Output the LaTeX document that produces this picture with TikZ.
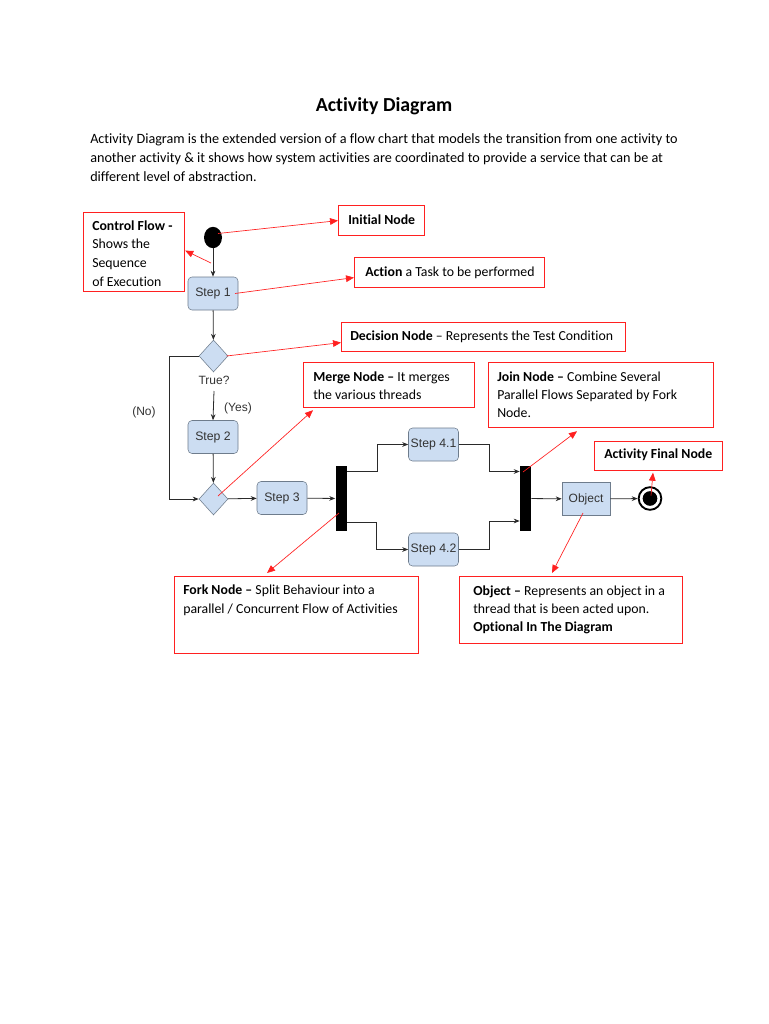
\documentclass[tikz,border=0pt]{standalone}
\usepackage{fontspec}
\setmainfont[Ligatures=NoCommon]{Carlito}
\newfontfamily\arialf{Liberation Sans}
\usetikzlibrary{shapes.geometric,arrows.meta,calc}
\definecolor{stepfill}{HTML}{CCDDF2}
\definecolor{stepdraw}{HTML}{6E7C8C}
\definecolor{annred}{HTML}{FF2020}
\definecolor{flowc}{HTML}{2A2A2A}
\begin{document}
\begin{tikzpicture}[x=0.75pt,y=-0.75pt,
  bodyfont/.style={font=\fontsize{10.64}{14.25}\selectfont},
  annbox/.style={draw=annred,line width=0.9pt,fill=white,inner sep=0pt,anchor=north west},
  anntext/.style={anchor=north west,inner sep=0pt,align=left,font=\fontsize{10.35}{13.6}\selectfont},
  stepbox/.style={draw=stepdraw,fill=stepfill,rounded corners=3pt,minimum width=37.5pt,minimum height=24.75pt,inner sep=0pt,font=\arialf\fontsize{9.2}{10}\selectfont,text=black!80},
  decis/.style={diamond,draw=stepdraw,fill=stepfill,minimum width=21.75pt,minimum height=24pt,inner sep=0pt,aspect=0.9},
  barnode/.style={fill=black,minimum width=8.25pt,minimum height=48.75pt,inner sep=0pt},
  flow/.style={draw=flowc,line width=0.6pt,-{Stealth[length=4.5pt,width=3.5pt]}},
  annarrow/.style={draw=annred,line width=0.5pt,-{Triangle[length=6pt,width=5pt]}},
  dlabel/.style={inner sep=0pt,font=\arialf\fontsize{9}{10}\selectfont,text=black!80}]
\useasboundingbox (0,0) rectangle (768,1024);
\fill[white] (0,0) rectangle (768,1024);

% title and intro
\node[inner sep=0pt,font=\bfseries\fontsize{14.9}{17}\selectfont] (title) at (384,106) {Activity Diagram};
\node[bodyfont,anchor=north west,inner sep=0pt,align=left] (intro) at (90,133.5)
 {Activity Diagram is the extended version of a flow chart that models the transition from one activity to\\
  another activity \& it shows how system activities are coordinated to provide a service that can be at\\
  different level of abstraction.};

% diagram nodes
\node[ellipse,fill=black,minimum width=13.5pt,minimum height=16pt,inner sep=0pt] (init) at (213,237.5) {};
\node[stepbox] (s1) at (213,293.5) {Step 1};
\node[decis] (dec) at (213.5,356) {};
\node[dlabel] (true) at (214,380) {True?};
\node[stepbox] (s2) at (213,437) {Step 2};
\node[decis] (mrg) at (213.5,499) {};
\node[stepbox] (s3) at (282,498) {Step 3};
\node[barnode] (fork) at (341,498.5) {};
\node[stepbox] (s41) at (433.5,444.5) {Step 4.1};
\node[stepbox] (s42) at (433.5,549.5) {Step 4.2};
\node[barnode] (join) at (525.5,498.5) {};
\node[draw=stepdraw,fill=stepfill,minimum width=36pt,minimum height=25pt,inner sep=0pt,font=\arialf\fontsize{9}{10}\selectfont,text=black!80] (obj) at (586,499) {Object};
\node[circle,draw=black,line width=1.4pt,minimum size=17pt,inner sep=0pt] (fin) at (650,498.5) {};
\node[circle,fill=black,minimum size=11pt,inner sep=0pt] (finin) at (650,498.5) {};
\node[dlabel] (yes) at (238,408) {(Yes)};
\node[dlabel] (no) at (144,412) {(No)};
\coordinate (nocorner1) at (169,356);
\coordinate (nocorner2) at (169,499);

% flows
\draw[flow] (init) -- (s1);
\draw[flow] (s1) -- (dec);
\draw[flow] ($(true)+(0,11)$) coordinate (ty) -- (s2.north);
\draw[flow] (s2) -- (mrg);
\draw[flow] (dec.west) -- (nocorner1) -- (nocorner2) -- (mrg.west);
\draw[flow] (mrg) -- (s3);
\draw[flow] (s3) -- (fork);
\draw[flow] ($(fork.east)+(0,-27.5)$) -| ($(fork.east)+(31,-40)$) |- (s41.west);
\draw[flow] ($(fork.east)+(0,23.5)$) -| ($(fork.east)+(30,40)$) |- (s42.west);
\draw[flow] (s41.east) -| ($(s41.east)+(31,10)$) |- ($(join.west)+(0,-27)$);
\draw[flow] (s42.east) -| ($(s42.east)+(31,-10)$) |- ($(join.west)+(0,22.5)$);
\draw[flow] (join) -- (obj);
\draw[flow] (obj) -- (fin);

% annotation boxes
\node[annbox,minimum width=75.75pt,minimum height=59.25pt] (cfbox) at (83,212) {};
\node[anntext,font=\fontsize{10.35}{13.9}\selectfont] (cftext) at (92,220.5) {\textbf{Control Flow -}\\Shows the\\Sequence\\of Execution};
\node[annbox,minimum width=64.5pt,minimum height=22.5pt] (initbox) at (338,205) {};
\node[anntext] (inittext) at (348,215) {\textbf{Initial Node}};
\node[annbox,minimum width=142.5pt,minimum height=22.5pt] (actbox) at (354,257) {};
\node[anntext] (acttext) at (365,267) {\textbf{Action} a Task to be performed};
\node[annbox,minimum width=213pt,minimum height=21.75pt] (decbox) at (341,322) {};
\node[anntext] (dectext) at (350,331) {\textbf{Decision Node} -- Represents the Test Condition};
\node[annbox,minimum width=128.25pt,minimum height=33.75pt] (mrgbox) at (303,362) {};
\node[anntext] (mrgtext) at (313,371.5) {\textbf{Merge Node --} It merges\\the various threads};
\node[annbox,minimum width=168.75pt,minimum height=48.75pt] (joinbox) at (488,362) {};
\node[anntext] (jointext) at (497,371.5) {\textbf{Join Node --} Combine Several\\Parallel Flows Separated by Fork\\Node.};
\node[annbox,minimum width=96pt,minimum height=21.75pt] (finbox) at (594,441) {};
\node[anntext] (fintext) at (604,449) {\textbf{Activity Final Node}};
\node[annbox,minimum width=183pt,minimum height=57.75pt] (forkbox) at (174,576) {};
\node[anntext] (forktext) at (183,585) {\textbf{Fork Node --} Split Behaviour into a\\parallel / Concurrent Flow of Activities};
\node[annbox,minimum width=167.25pt,minimum height=50.25pt] (objbox) at (459,576) {};
\node[anntext] (objtext) at (473,585.5) {\textbf{Object --} Represents an object in a\\thread that is been acted upon.\\\textbf{Optional In The Diagram}};

% annotation arrows
\coordinate (cfpt) at (211,263);
\draw[annarrow] (cfpt) -- ($(cfbox.east)+(0,-1.5)$);
\draw[annarrow] ($(init.center)+(5,-4)$) -- ($(initbox.west)+(0,0)$);
\draw[annarrow] ($(s1.center)+(22,0)$) -- ($(actbox.west)+(0,5)$);
\draw[annarrow] ($(dec.center)+(13,0)$) -- ($(decbox.west)+(0,5.5)$);
\draw[annarrow] ($(mrg.center)+(4.5,-3)$) -- ($(mrgbox.south west)+(10,2)$);
\draw[annarrow] ($(join.center)+(-2.5,-26.5)$) -- ($(joinbox.south west)+(89,3)$);
\draw[annarrow] ($(fin.center)+(1,-3)$) -- ($(finbox.south west)+(59,1.5)$);
\draw[annarrow] ($(fork.center)+(-2,14.5)$) -- ($(forkbox.north west)+(93,-3)$);
\draw[annarrow] ($(obj.center)+(-3,14)$) -- ($(objbox.north west)+(93,-3)$);
\end{tikzpicture}
\end{document}
